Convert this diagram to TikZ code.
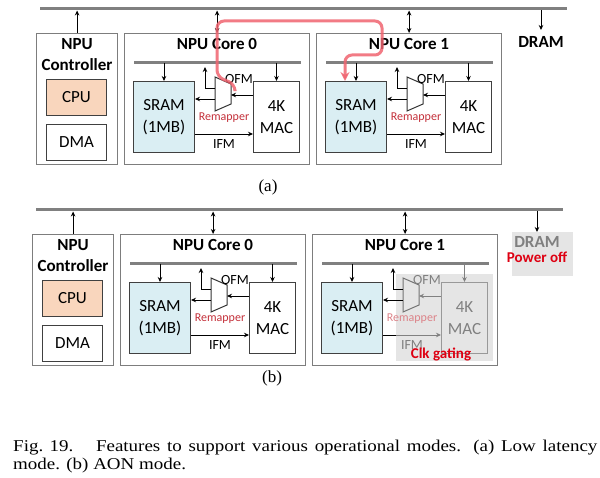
\documentclass[tikz,border=0pt]{standalone}
\usepackage{graphicx}
\usepackage{fontspec}
\setmainfont{Liberation Serif}
\newfontfamily\carl{Carlito}
\usetikzlibrary{arrows.meta}
\definecolor{busgray}{RGB}{128,128,128}
\definecolor{framegray}{RGB}{125,125,125}
\definecolor{sramblue}{RGB}{218,238,243}
\definecolor{cpupeach}{RGB}{249,214,189}
\definecolor{remred}{RGB}{196,48,58}
\definecolor{pinkpath}{RGB}{240,100,112}
\definecolor{gatefill}{RGB}{229,229,229}
\definecolor{offred}{RGB}{222,0,18}
\definecolor{fadegray}{RGB}{128,128,128}
\tikzset{
  bus/.style={line width=3pt, draw=busgray},
  frame/.style={draw=framegray, line width=1.2pt, inner sep=0pt},
  blk/.style={draw=black!75, line width=1pt, inner sep=0pt, align=center,
    font=\carl\fontsize{17}{22}\selectfont},
  srambox/.style={blk, fill=sramblue},
  macbox/.style={blk, fill=white},
  ttl/.style={font=\carl\bfseries\fontsize{17}{20}\selectfont, inner sep=0pt},
  arr/.style={-{Stealth[length=5pt,width=4.5pt]}, line width=0.8pt, draw=black},
  darr/.style={{Stealth[length=5pt,width=4.5pt]}-{Stealth[length=5pt,width=4.5pt]}, line width=0.8pt},
  plain/.style={line width=0.8pt, draw=black},
  macarr/.style={arr},
  muxline/.style={draw=black!80, line width=1pt},
  lbl/.style={font=\carl\fontsize{14}{16}\selectfont, inner sep=0pt, text=black},
  remlbl/.style={font=\carl\fontsize{12}{14}\selectfont, inner sep=0pt, text=remred},
  gatebox/.style={draw=none, inner sep=0pt},
  pinkarr/.style={draw=pinkpath, opacity=0.85, line width=3pt, rounded corners=7pt,
    -{Stealth[length=9pt,width=9pt]}},
  captxt/.style={anchor=base west, inner sep=0pt, font=\fontsize{16.5}{19}\selectfont},
}
\newcommand\npucore[3]{%
\begin{scope}[shift={#2}]
  \node[frame, anchor=north west, minimum width=185pt, minimum height=131pt] (#1box) at (0,0) {};
  \node[gatebox, anchor=north west, minimum width=97pt, minimum height=87pt] (#1gate) at (84,40) {};
  \node[ttl] (#1title) at (93,11) {#3};
  \coordinate (#1busL) at (10,30);
  \coordinate (#1busR) at (177,30);
  \draw[bus] (#1busL) -- (#1busR);
  \node[srambox, anchor=north west, minimum width=61pt, minimum height=71pt] (#1sram) at (9,48) {SRAM\\(1MB)};
  \node[macbox, anchor=north west, minimum width=46pt, minimum height=71pt] (#1mac) at (129,48) {4K\\MAC};
  \coordinate (#1muxA) at (91,44);
  \coordinate (#1muxB) at (107,51);
  \coordinate (#1muxC) at (107,71);
  \coordinate (#1muxD) at (91,78);
  \draw[muxline] (#1muxA) -- (#1muxB) -- (#1muxC) -- (#1muxD) -- cycle;
  \coordinate (#1muxin) at (107,62);
  \coordinate (#1muxout) at (91,66);
  \coordinate (#1muxup) at (91,55);
  \coordinate (#1upend) at (81,34);
  \coordinate (#1ifm) at (100,101);
  \draw[macarr] (#1mac.west |- #1muxin) -- (#1muxin);
  \draw[arr] (#1muxout) -- (#1sram.east |- #1muxout);
  \draw[arr] (#1muxup) -| (#1upend);
  \draw[plain] (#1sram.east |- #1ifm) -- (#1gate.west |- #1ifm);
  \draw[macarr] (#1gate.west |- #1ifm) -- (#1mac.west |- #1ifm);
  \draw[arr] (#1sram.north |- #1busL) -- (#1sram.north);
  \draw[macarr] (#1mac.north |- #1busL) -- (#1mac.north);
  \node[lbl] (#1ofm) at (115,46) {OFM};
  \node[remlbl] (#1rem) at (100,85) {Remapper};
  \node[lbl] (#1ifmlbl) at (100,111) {IFM};
\end{scope}}
\newcommand\ctrlblock[2]{%
\begin{scope}[shift={#2}]
  \node[frame, anchor=north west, minimum width=81pt, minimum height=131pt] (#1ctrl) at (36,33) {};
  \node[ttl, anchor=base] (#1npu) at (77,49.5) {NPU};
  \node[ttl, anchor=base] (#1ctl) at (77,70.5) {Controller};
  \node[blk, fill=cpupeach, anchor=north west, minimum width=60pt, minimum height=36pt] (#1cpu) at (46,79) {CPU};
  \node[blk, fill=white, anchor=north west, minimum width=60pt, minimum height=36pt] (#1dma) at (46,124) {DMA};
\end{scope}}
\begin{document}
\begin{tikzpicture}[x=1pt, y=-1pt]
\useasboundingbox (0,0) rectangle (600,478);
\fill[white] (0,0) rectangle (600,478);
% ---------------- (a)
\coordinate (aBL) at (40,9);
\coordinate (aBR) at (567,9);
\draw[bus] (aBL) -- (aBR);
\ctrlblock{a}{(0,0)}
\npucore{a0}{(124,33)}{NPU Core 0}
\npucore{a1}{(316,33)}{NPU Core 1}
\draw[arr] (actrl.north) -- (actrl.north |- 0,10.5);
\draw[darr] (a0box.north) -- (a0box.north |- 0,10.5);
\draw[darr] (a1box.north) -- (a1box.north |- 0,10.5);
\node[ttl] (adram) at (541,42) {DRAM};
\coordinate (adramtop) at (541,10.5);
\draw[arr] (adramtop) -- (adramtop |- 0,30);
\coordinate (pk0) at (235,90);
\coordinate (pk1) at (235,84);
\coordinate (pk2) at (217,77);
\coordinate (pk3) at (217,21);
\coordinate (pk4) at (382,21);
\coordinate (pk5) at (382,55);
\coordinate (pk6) at (345,55);
\draw[pinkarr] (pk0) -- (pk1) -- (pk2) -- (pk3) -- (pk4) -- (pk5) -- (pk6) -- (a1sram.north -| pk6);
\node[font=\fontsize{17}{20}\selectfont] (alab) at (268,187) {(a)};
% ---------------- (b)
\begin{scope}[shift={(-4,201)}]
\coordinate (bBL) at (40,9);
\coordinate (bBR) at (567,9);
\draw[bus] (bBL) -- (bBR);
\ctrlblock{b}{(0,0)}
\npucore{b0}{(124,33)}{NPU Core 0}
\begin{scope}[
  gatebox/.style={fill=gatefill, draw=none, inner sep=0pt},
  macbox/.style={blk, fill=gatefill, draw=black!40, text=fadegray},
  macarr/.style={arr, draw=fadegray, color=fadegray},
  muxline/.style={draw=black!55, line width=1pt},
  lbl/.style={font=\carl\fontsize{14}{16}\selectfont, inner sep=0pt, text=fadegray},
  remlbl/.style={font=\carl\fontsize{12}{14}\selectfont, inner sep=0pt, text=remred!60}]
\npucore{b1}{(316,33)}{NPU Core 1}
\end{scope}
\node[font=\carl\bfseries\fontsize{15}{18}\selectfont, text=offred, inner sep=0pt] (bclk) at (445,153) {Clk gating};
\draw[arr] (bctrl.north) -- (bctrl.north |- 0,10.5);
\draw[darr] (b0box.north) -- (b0box.north |- 0,10.5);
\draw[darr] (b1box.north) -- (b1box.north |- 0,10.5);
\node[fill=gatefill, anchor=north west, minimum width=61pt, minimum height=44pt, inner sep=0pt] (bdrambox) at (516,31) {};
\node[ttl, text=fadegray] (bdram) at (541,41) {DRAM};
\node[font=\carl\bfseries\fontsize{15}{18}\selectfont, text=offred, inner sep=0pt] (boff) at (541,56) {Power off};
\coordinate (bdramtop) at (541,10.5);
\draw[arr] (bdramtop) -- (bdramtop |- bdrambox.north);
\end{scope}
\node[font=\fontsize{17}{20}\selectfont] (blab) at (272,378) {(b)};
% ---------------- caption
\node[captxt] (cap1) at (13,451)
  {\scalebox{1.15}[1]{\makebox[508pt][s]{\mbox{Fig. 19.}\hspace{1.2em}Features to support various operational modes. (a) Low latency}}};
\node[captxt] (cap2) at (13,469) {\scalebox{1.15}[1]{mode. (b) AON mode.}};
\end{tikzpicture}
\end{document}
